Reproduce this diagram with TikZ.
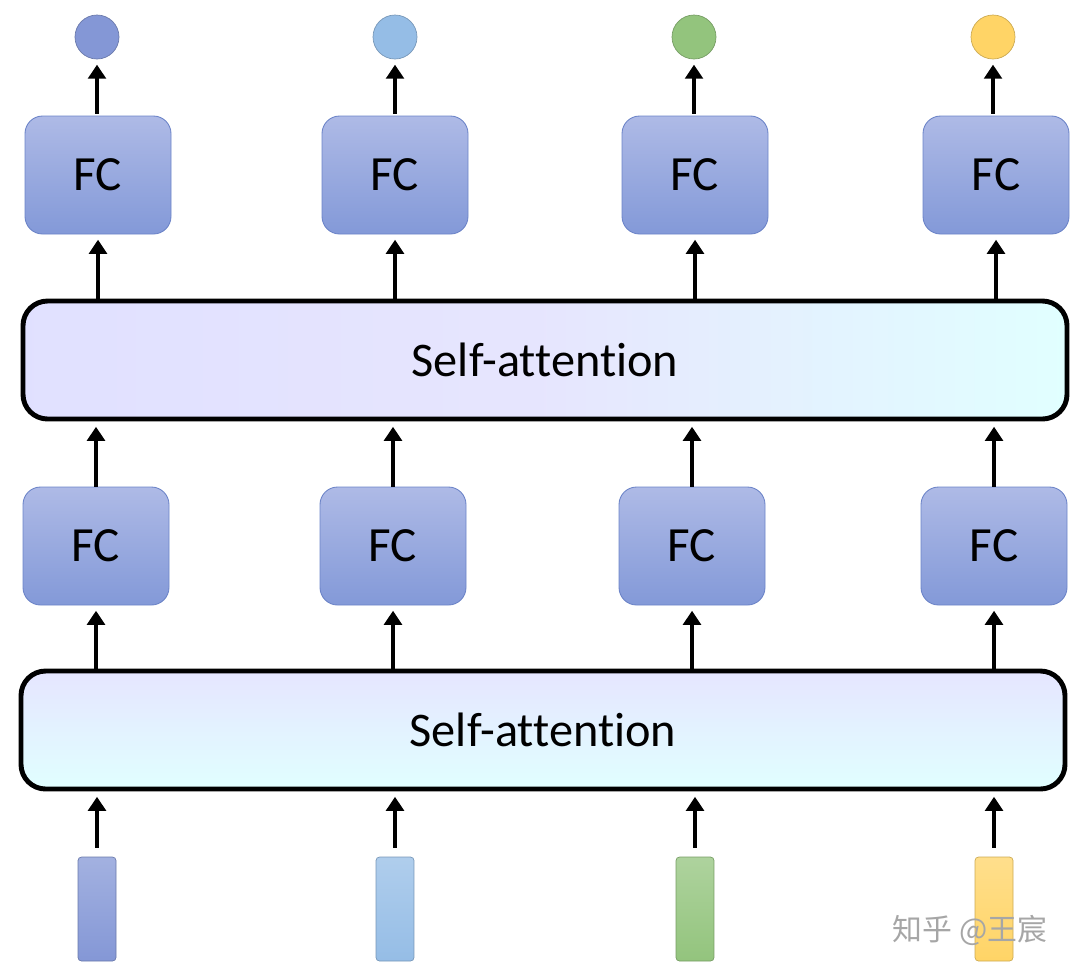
\documentclass[tikz,border=0pt]{standalone}
\usepackage{fontspec}
\setmainfont{Carlito}[Ligatures={NoCommon}]
\newfontfamily\cjk{Noto Sans CJK SC}
\usetikzlibrary{arrows.meta}
\definecolor{fcT}{HTML}{AEBAE6}
\definecolor{fcB}{HTML}{8399D8}
\definecolor{fcE}{HTML}{6C84C8}
\begin{document}
\begin{tikzpicture}[x=0.02cm,y=-0.02cm,
  fc/.style={draw=fcE,line width=0.5pt,rounded corners=10pt,top color=fcT,bottom color=fcB,
    minimum width=146*0.02cm,minimum height=118*0.02cm,font=\fontsize{28}{30}\selectfont,inner sep=0pt},
  sa/.style={draw=black,line width=2.8pt,rounded corners=14pt,
    minimum width=1044*0.02cm,minimum height=118*0.02cm,font=\fontsize{27.5}{30}\selectfont,inner sep=0pt},
  arr/.style={line width=2.3pt,-{Triangle[length=8pt,width=10pt]},shorten >=3pt},
  out/.style={circle,minimum size=44*0.02cm,inner sep=0pt,draw=#1!80!black,line width=0.4pt,fill=#1},
  inp/.style={rounded corners=2pt,minimum width=38*0.02cm,minimum height=104*0.02cm,inner sep=0pt,draw=#1!80!black,line width=0.4pt,top color=#1!75!white,bottom color=#1}
]
\useasboundingbox (0,0) rectangle (1084,975);
\definecolor{c1}{HTML}{8497D6}\definecolor{c2}{HTML}{95BDE6}
\definecolor{c3}{HTML}{93C47D}\definecolor{c4}{HTML}{FFD466}
\node[out=c1] (o1) at (97,37) {};
\node[out=c2] (o2) at (395,37) {};
\node[out=c3] (o3) at (694,37) {};
\node[out=c4] (o4) at (993,37) {};
\node[fc] (t1) at (98,175) {FC};
\node[fc] (t2) at (395,175) {FC};
\node[fc] (t3) at (695,175) {FC};
\node[fc] (t4) at (996,175) {FC};
\node[sa,left color=blue!12!white,right color=cyan!12!white,middle color=violet!8!blue!10!white] (s2) at (545,360) {Self-attention};
\node[fc] (m1) at (96,546) {FC};
\node[fc] (m2) at (393,546) {FC};
\node[fc] (m3) at (692,546) {FC};
\node[fc] (m4) at (994,546) {FC};
\node[sa,top color=blue!10!white,bottom color=cyan!12!white] (s1) at (543,730) {Self-attention};
\node[inp=c1] (i1) at (97,909) {};
\node[inp=c2] (i2) at (395,909) {};
\node[inp=c3] (i3) at (695,909) {};
\node[inp=c4] (i4) at (994,909) {};
\foreach \k in {1,2,3,4}{
  \draw[arr,shorten <=1pt] (o\k.south |- t\k.north) -- (o\k.south);
  \draw[arr] (t\k.south |- s2.north) -- (t\k.south);
  \draw[arr] (m\k.north) -- (m\k.north |- s2.south);
  \draw[arr] (m\k.south |- s1.north) -- (m\k.south);
  \draw[arr,shorten <=5pt] (i\k.north) -- (i\k.north |- s1.south);
}
\node[text=gray!70,font=\cjk\fontsize{17}{20}\selectfont] (wm) at (970,930) {知乎 @王宸};
\end{tikzpicture}
\end{document}
